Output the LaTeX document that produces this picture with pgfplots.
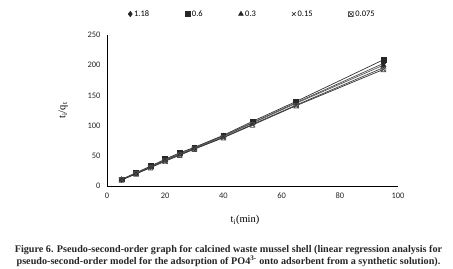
\documentclass[border=0pt]{standalone}
\usepackage{fontspec}
\setmainfont{Liberation Serif}
\newfontfamily\carlito{Carlito}
\usepackage{pgfplots}
\pgfplotsset{compat=1.18}
\usepackage{pgfplotstable}

% square with a cross inside
\pgfdeclareplotmark{sqx}{%
  \pgfpathrectangle{\pgfqpoint{-\pgfplotmarksize}{-\pgfplotmarksize}}{\pgfqpoint{2\pgfplotmarksize}{2\pgfplotmarksize}}%
  \pgfpathmoveto{\pgfqpoint{-\pgfplotmarksize}{-\pgfplotmarksize}}%
  \pgfpathlineto{\pgfqpoint{\pgfplotmarksize}{\pgfplotmarksize}}%
  \pgfpathmoveto{\pgfqpoint{-\pgfplotmarksize}{\pgfplotmarksize}}%
  \pgfpathlineto{\pgfqpoint{\pgfplotmarksize}{-\pgfplotmarksize}}%
  \pgfusepathqstroke}

% t (min) versus t/q_t for each particle size
\pgfplotstableread{
t    a     b     c     d     e
5    10.5  11.0  10.5  10.2  10.0
10   21.0  22.0  21.0  20.5  20.0
15   32.0  33.0  32.0  31.0  30.5
20   43.0  44.5  43.0  42.0  41.0
25   53.5  55.0  53.0  52.0  51.0
30   63.0  64.0  62.5  61.5  61.0
40   83.0  84.0  82.0  80.5  80.0
50   105.0 107.0 104.0 102.0 101.0
65   138.0 140.0 137.0 134.0 133.0
95   203.0 209.0 200.0 196.0 193.0
}\kin

\begin{document}
\begin{tikzpicture}
\path[use as bounding box] (-107bp,-83bp) rectangle (346bp,186bp);
\begin{axis}[
  at={(0,0)}, anchor=south west,
  scale only axis, width=291bp, height=151bp,
  xmin=0, xmax=100, ymin=0, ymax=250,
  xtick={0,20,...,100}, ytick={0,50,...,250},
  axis x line*=bottom, axis y line*=left,
  axis line style={-, line width=0.8pt},
  major tick length=0pt,
  /pgf/number format/assume math mode=true,
  tick label style={font=\carlito\fontsize{8.5}{10}\selectfont, text=black!85},
  xticklabel style={yshift=-3bp},
  yticklabel style={xshift=-3bp},
  xlabel={t\textsubscript{i}(min)},
  ylabel={t\textsubscript{i}/q\textsubscript{t}},
  xlabel style={at={(axis description cs:0.474,-0.225)}, anchor=center, font=\fontsize{10.5}{12}\selectfont},
  ylabel style={at={(axis description cs:-0.151,0.5)}, anchor=center, font=\fontsize{10.5}{12}\selectfont},
  legend columns=5,
  legend style={at={(axis description cs:0.5,1.139)}, anchor=center, draw=none, fill=none,
    font=\carlito\fontsize{8.5}{10}\selectfont,
    /tikz/every even column/.append style={column sep=34bp},
    inner sep=0pt},
  legend cell align=left,
  legend image code/.code={\draw[#1, only marks] plot coordinates {(0bp,0bp)};},
  every axis plot/.append style={line width=0.7pt, mark options={solid, fill=black!85, draw=black!85}},
]
\addplot[black!70, mark=diamond*, mark size=2.6bp] table[x=t, y=a] {\kin};
\addlegendentry{1.18}
\addplot[black!80, mark=square*, mark size=2.4bp] table[x=t, y=b] {\kin};
\addlegendentry{0.6}
\addplot[black!65, mark=triangle*, mark size=2.6bp] table[x=t, y=c] {\kin};
\addlegendentry{0.3}
\addplot[black!75, mark=x, mark size=2.6bp] table[x=t, y=d] {\kin};
\addlegendentry{0.15}
\addplot[black!80, mark=sqx, mark size=2.4bp, mark options={fill=none, draw=black!70}] table[x=t, y=e] {\kin};
\addlegendentry{0.075}
\end{axis}
\node[align=center, font=\bfseries\fontsize{10.2}{12}\selectfont, text=black!85] at (121.5bp,-70bp)
  {Figure 6. Pseudo-second-order graph for calcined waste mussel shell (linear regression analysis for\\
   pseudo-second-order model for the adsorption of PO4\textsuperscript{3-} onto adsorbent from a synthetic solution).};
\end{tikzpicture}
\end{document}
